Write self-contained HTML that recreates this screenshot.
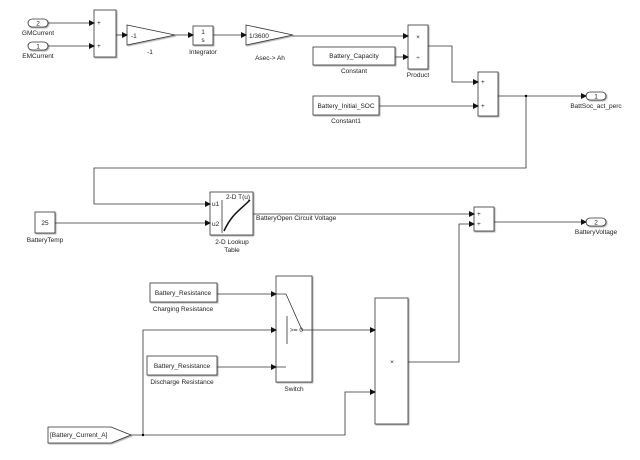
<!DOCTYPE html><html><head><style>body{margin:0;background:#fff}svg{display:block}text{font-family:"Liberation Sans",sans-serif;font-size:6.5px;fill:#222}</style></head><body>
<svg width="640" height="460" viewBox="0 0 640 460" xmlns="http://www.w3.org/2000/svg">
<defs><marker id="a" markerWidth="6" markerHeight="6" refX="5" refY="3" orient="auto" markerUnits="userSpaceOnUse"><path d="M0,0L6,3L0,6z" fill="#111"/></marker>
<filter id="s"><feDropShadow dx="1" dy="1" stdDeviation="0.6" flood-opacity="0.35"/></filter></defs>
<g fill="#fff" stroke="#333" stroke-width="0.8" filter="url(#s)">
<rect x="28" y="19" width="20" height="8" rx="4"/><rect x="28" y="42" width="20" height="8" rx="4"/>
<rect x="94" y="10" width="22" height="47"/>
<path d="M127,25L175,35L127,45z"/>
<rect x="193" y="26" width="20" height="19"/>
<path d="M246,25L293,35L246,45z"/>
<rect x="408" y="25" width="20" height="44"/>
<rect x="313" y="47" width="82" height="18"/>
<rect x="478" y="72" width="20" height="44"/>
<rect x="313" y="96" width="66" height="19"/>
<rect x="586" y="92" width="20" height="8" rx="4"/>
<rect x="210" y="192" width="43" height="43"/>
<rect x="35" y="212" width="20" height="21"/>
<rect x="474" y="207" width="20" height="24"/>
<rect x="586" y="218" width="20" height="8" rx="4"/>
<rect x="276" y="276" width="36" height="106"/>
<rect x="150" y="283" width="67" height="19"/>
<rect x="147" y="356" width="70" height="19"/>
<rect x="375" y="298" width="33" height="126"/>
<path d="M48,427L111,427L131,435L111,443L48,443z"/>
</g>
<g fill="none" stroke="#333" stroke-width="0.8" marker-end="url(#a)">
<path d="M48,23H94"/><path d="M48,46H94"/><path d="M116,35H127"/><path d="M175,35H193"/><path d="M213,35H246"/>
<path d="M293,36H408"/><path d="M395,57H408"/><path d="M428,46H452V82H478"/><path d="M379,106H478"/>
<path d="M498,96H586"/><path d="M526,96V168H94V204H210"/><path d="M55,223H210"/>
<path d="M253,214H474"/><path d="M494,222H586"/><path d="M408,362H459V224H474"/>
<path d="M217,294H276"/><path d="M217,367H276"/><path d="M312,330H375"/>
<path d="M131,435H345V392H375"/><path d="M143,435V330H276"/>
</g>
<g stroke="#333" stroke-width="0.8" fill="none">
<path d="M276,294H286M286,294L302,330H312M276,367H286M287,316V344"/>
<path d="M224,231C232,214 238,212 250,200" stroke="#111" stroke-width="1.5"/>
<path d="M222,200V233"/>
</g>
<circle cx="526" cy="96" r="1.2"/><circle cx="143" cy="435" r="1.2"/>
<g text-anchor="middle">
<text x="38" y="25.5">2</text><text x="38" y="48.5">1</text>
<text x="38" y="35">GMCurrent</text><text x="38" y="58">EMCurrent</text>
<text x="150" y="54">-1</text><text x="203" y="54">Integrator</text><text x="270" y="60">Asec-&gt; Ah</text>
<text x="203" y="34">1</text><text x="203" y="42">s</text>
<text x="354" y="58">Battery_Capacity</text><text x="354" y="73">Constant</text>
<text x="418" y="77">Product</text>
<text x="346" y="108">Battery_Initial_SOC</text><text x="346" y="123">Constant1</text>
<text x="596" y="98.5">1</text><text x="596" y="108">BattSoc_act_perc</text>
<text x="45" y="225">25</text><text x="45" y="242">BatteryTemp</text>
<text x="232" y="244">2-D Lookup</text><text x="232" y="252">Table</text>
<text x="238" y="199">2-D T(u)</text>
<text x="596" y="224.5">2</text><text x="596" y="234">BatteryVoltage</text>
<text x="183" y="295">Battery_Resistance</text><text x="183" y="311">Charging Resistance</text>
<text x="182" y="368">Battery_Resistance</text><text x="182" y="384">Discharge Resistance</text>
<text x="294" y="391">Switch</text>
<text x="392" y="364">×</text><text x="418" y="39">×</text><text x="418" y="60">÷</text>
</g>
<text x="212" y="206">u1</text><text x="212" y="226">u2</text>
<text x="256" y="220">BatteryOpen Circuit Voltage</text>
<text x="131" y="38">-1</text><text x="249" y="38">1/3600</text>
<text x="290" y="332">&gt;= 0</text>
<text x="50" y="437">[Battery_Current_A]</text>
<g font-size="6"><text x="97" y="25">+</text><text x="97" y="48">+</text><text x="481" y="84">+</text><text x="481" y="108">+</text><text x="477" y="216">+</text><text x="477" y="226">+</text></g>
</svg></body></html>
